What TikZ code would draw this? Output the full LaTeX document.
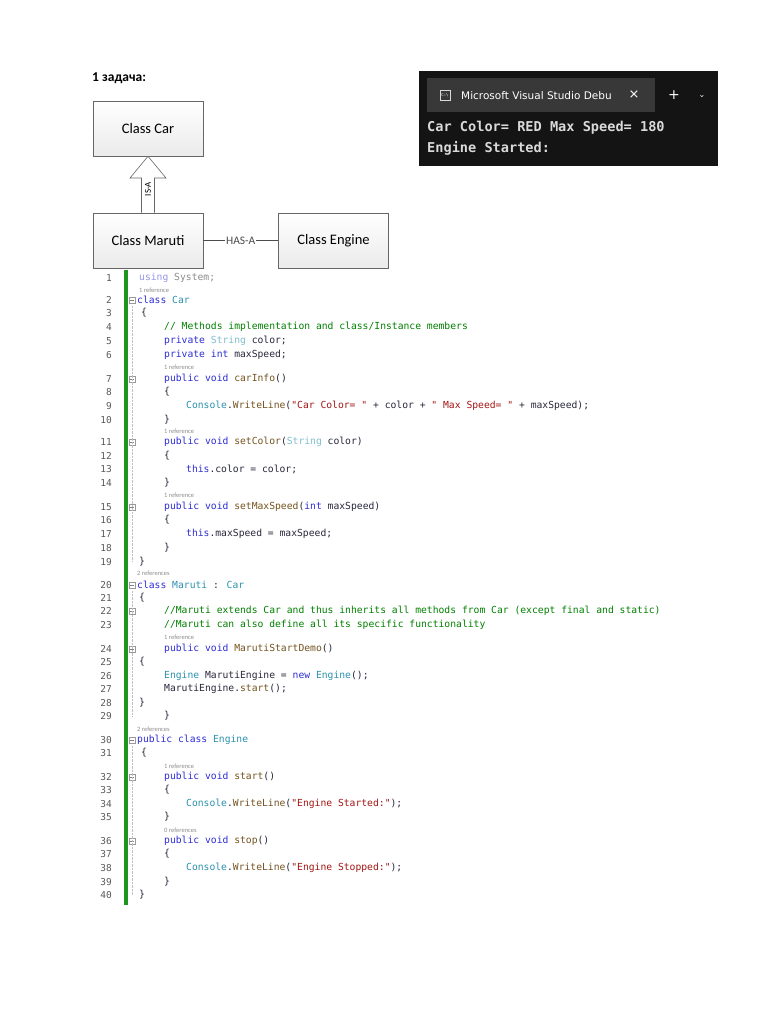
\documentclass[tikz,border=0pt]{standalone}
\usepackage{fontspec}
\setmainfont{Carlito}
\newfontfamily\cmono{DejaVu Sans Mono}
\newfontfamily\dv{DejaVu Sans}
\definecolor{kw}{RGB}{45,45,215}
\definecolor{ty}{RGB}{43,145,175}
\definecolor{st}{RGB}{163,21,21}
\definecolor{cm}{RGB}{0,128,0}
\definecolor{mt}{RGB}{116,83,31}
\definecolor{idc}{RGB}{40,40,60}
\definecolor{lnc}{RGB}{90,90,90}
\definecolor{bar}{RGB}{30,150,30}
\newcommand\K[1]{\textcolor{kw}{#1}}
\newcommand\T[1]{\textcolor{ty}{#1}}
\newcommand\Sx[1]{\textcolor{st}{#1}}
\newcommand\Cm[1]{\textcolor{cm}{#1}}
\newcommand\M[1]{\textcolor{mt}{#1}}
\begin{document}
\begin{tikzpicture}[x=1pt,y=-1pt,
  cls/.style={draw=black!60,line width=0.6pt,top color=white,bottom color=black!8,minimum width=110pt,minimum height=55pt,font=\fontsize{14.5}{16}\selectfont,inner sep=0pt},
  code/.style={anchor=west,inner sep=0pt,font=\cmono\fontsize{9.7}{11}\selectfont,text=idc},
  ln/.style={anchor=east,inner sep=0pt,font=\cmono\fontsize{9.5}{10}\selectfont,text=lnc},
  ref/.style={anchor=west,inner sep=0pt,font=\fontsize{6.5}{7}\selectfont,text=black!45},
  fold/.style={draw=black!40,line width=0.4pt,minimum size=6pt,inner sep=0pt},
  con/.style={anchor=west,inner sep=0pt,font=\cmono\bfseries\fontsize{13.6}{16}\selectfont,text=black!15}]
\useasboundingbox (0,0) rectangle (768,1024);
\fill[white] (0,0) rectangle (768,1024);
\node[anchor=west,inner sep=0pt,font=\bfseries\fontsize{13.5}{15}\selectfont] (title) at (92,78) {1 задача:};
% diagram
\node[cls] (car) at (148,128.5) {Class Car};
\node[cls] (maruti) at (148,240.5) {Class Maruti};
\node[cls] (engine) at (333.5,240.5) {Class Engine};
\draw[black!60,fill=white,line width=0.6pt] (maruti.north -| 141.5,0) -- (141.5,178) -- (130,178) -- (car.south) -- (166,178) -- (154.5,178) -- (maruti.north -| 154.5,0);
\node[rotate=90,font=\fontsize{9}{10}\selectfont,inner sep=0pt] (isal) at (148,189) {IS-A};
\draw[black!70,line width=0.5pt] (maruti.east) -- node[fill=white,inner sep=1pt,font=\fontsize{11.5}{13}\selectfont] (hasa) {HAS-A} (engine.west);
% console
\fill[black!92] (419,71) rectangle (718,166);
\fill[black!78] (427,78) rectangle (655,112);
\node[draw=white!85!black,line width=0.6pt,minimum size=10pt,inner sep=0pt,font=\cmono\fontsize{4}{4}\selectfont,text=white] (ico) at (445,95) {C:\textbackslash};
\node[anchor=west,inner sep=0pt,font=\dv\fontsize{10.5}{12}\selectfont,text=white] (ctitle) at (461,96) {Microsoft Visual Studio Debu};
\node[inner sep=0pt,font=\dv\fontsize{13}{14}\selectfont,text=white] (cx) at (634,95) {×};
\node[inner sep=0pt,font=\dv\fontsize{14}{14}\selectfont,text=white] (cplus) at (674,95) {+};
\node[inner sep=0pt,font=\dv\fontsize{8}{10}\selectfont,text=white] (cdown) at (702,96) {⌄};
\node[con] (o1) at (427,128) {Car Color= RED Max Speed= 180};
\node[con] (o2) at (427,148) {Engine Started:};
% code
\fill[bar] (124,270) rectangle (127.5,905);
\foreach \y in {300,379,442,507,585,611,649,740,777,841}{\node[fold] at (132,\y) {}; \draw[black!50,line width=0.4pt] (130,\y) -- (134,\y);}
\draw[black!25,line width=0.4pt,densely dotted] (132,306)--(132,562) (132,591)--(132,716) (132,746)--(132,895);
\foreach \n/\y in {1/278,2/300,3/313,4/327,5/341,6/355,7/379,8/392,9/406,10/420,11/442,12/456,13/469,14/483,15/507,16/520,17/534,18/548,19/562,20/585,21/598,22/611,23/625,24/649,25/662,26/676,27/689,28/703,29/716,30/740,31/753,32/777,33/790,34/804,35/817,36/841,37/854,38/868,39/882,40/895}{\node[ln] (n\n) at (112,\y) {\n};}
\foreach \x/\y/\t in {139/290/1 reference,164/367/1 reference,164/431/1 reference,164/495/1 reference,137/573/2 references,164/637/1 reference,137/729/2 references,164/766/1 reference,164/830/0 references}{\node[ref] at (\x,\y) {\t};}
\node[code] (c1) at (139,278) {\textcolor{kw!50}{using} \textcolor{black!45}{System;}};
\node[code] (c2) at (137,300) {\K{class} \T{Car}};
\node[code] (c3) at (141,313) {\{};
\node[code] (c4) at (164,327) {\Cm{// Methods implementation and class/Instance members}};
\node[code] (c5) at (164,341) {\K{private} \textcolor{ty!60}{String} color;};
\node[code] (c6) at (164,355) {\K{private} \K{int} maxSpeed;};
\node[code] (c7) at (164,379) {\K{public} \K{void} \M{carInfo}()};
\node[code] (c8) at (164,392) {\{};
\node[code] (c9) at (186,406) {\T{Console}.\M{WriteLine}(\Sx{"Car Color= "} + color + \Sx{" Max Speed= "} + maxSpeed);};
\node[code] (c10) at (164,420) {\}};
\node[code] (c11) at (164,442) {\K{public} \K{void} \M{setColor}(\textcolor{ty!60}{String} color)};
\node[code] (c12) at (164,456) {\{};
\node[code] (c13) at (186,469) {\K{this}.color = color;};
\node[code] (c14) at (164,483) {\}};
\node[code] (c15) at (164,507) {\K{public} \K{void} \M{setMaxSpeed}(\K{int} maxSpeed)};
\node[code] (c16) at (164,520) {\{};
\node[code] (c17) at (186,534) {\K{this}.maxSpeed = maxSpeed;};
\node[code] (c18) at (164,548) {\}};
\node[code] (c19) at (139,562) {\}};
\node[code] (c20) at (137,585) {\K{class} \T{Maruti} : \T{Car}};
\node[code] (c21) at (139,598) {\{};
\node[code] (c22) at (164,611) {\Cm{//Maruti extends Car and thus inherits all methods from Car (except final and static)}};
\node[code] (c23) at (164,625) {\Cm{//Maruti can also define all its specific functionality}};
\node[code] (c24) at (164,649) {\K{public} \K{void} \M{MarutiStartDemo}()};
\node[code] (c25) at (139,662) {\{};
\node[code] (c26) at (164,676) {\T{Engine} MarutiEngine = \K{new} \T{Engine}();};
\node[code] (c27) at (164,689) {MarutiEngine.\M{start}();};
\node[code] (c28) at (139,703) {\}};
\node[code] (c29) at (164,716) {\}};
\node[code] (c30) at (137,740) {\K{public} \K{class} \T{Engine}};
\node[code] (c31) at (141,753) {\{};
\node[code] (c32) at (164,777) {\K{public} \K{void} \M{start}()};
\node[code] (c33) at (164,790) {\{};
\node[code] (c34) at (186,804) {\T{Console}.\M{WriteLine}(\Sx{"Engine Started:"});};
\node[code] (c35) at (164,817) {\}};
\node[code] (c36) at (164,841) {\K{public} \K{void} \M{stop}()};
\node[code] (c37) at (164,854) {\{};
\node[code] (c38) at (186,868) {\T{Console}.\M{WriteLine}(\Sx{"Engine Stopped:"});};
\node[code] (c39) at (164,882) {\}};
\node[code] (c40) at (139,895) {\}};
\end{tikzpicture}
\end{document}
